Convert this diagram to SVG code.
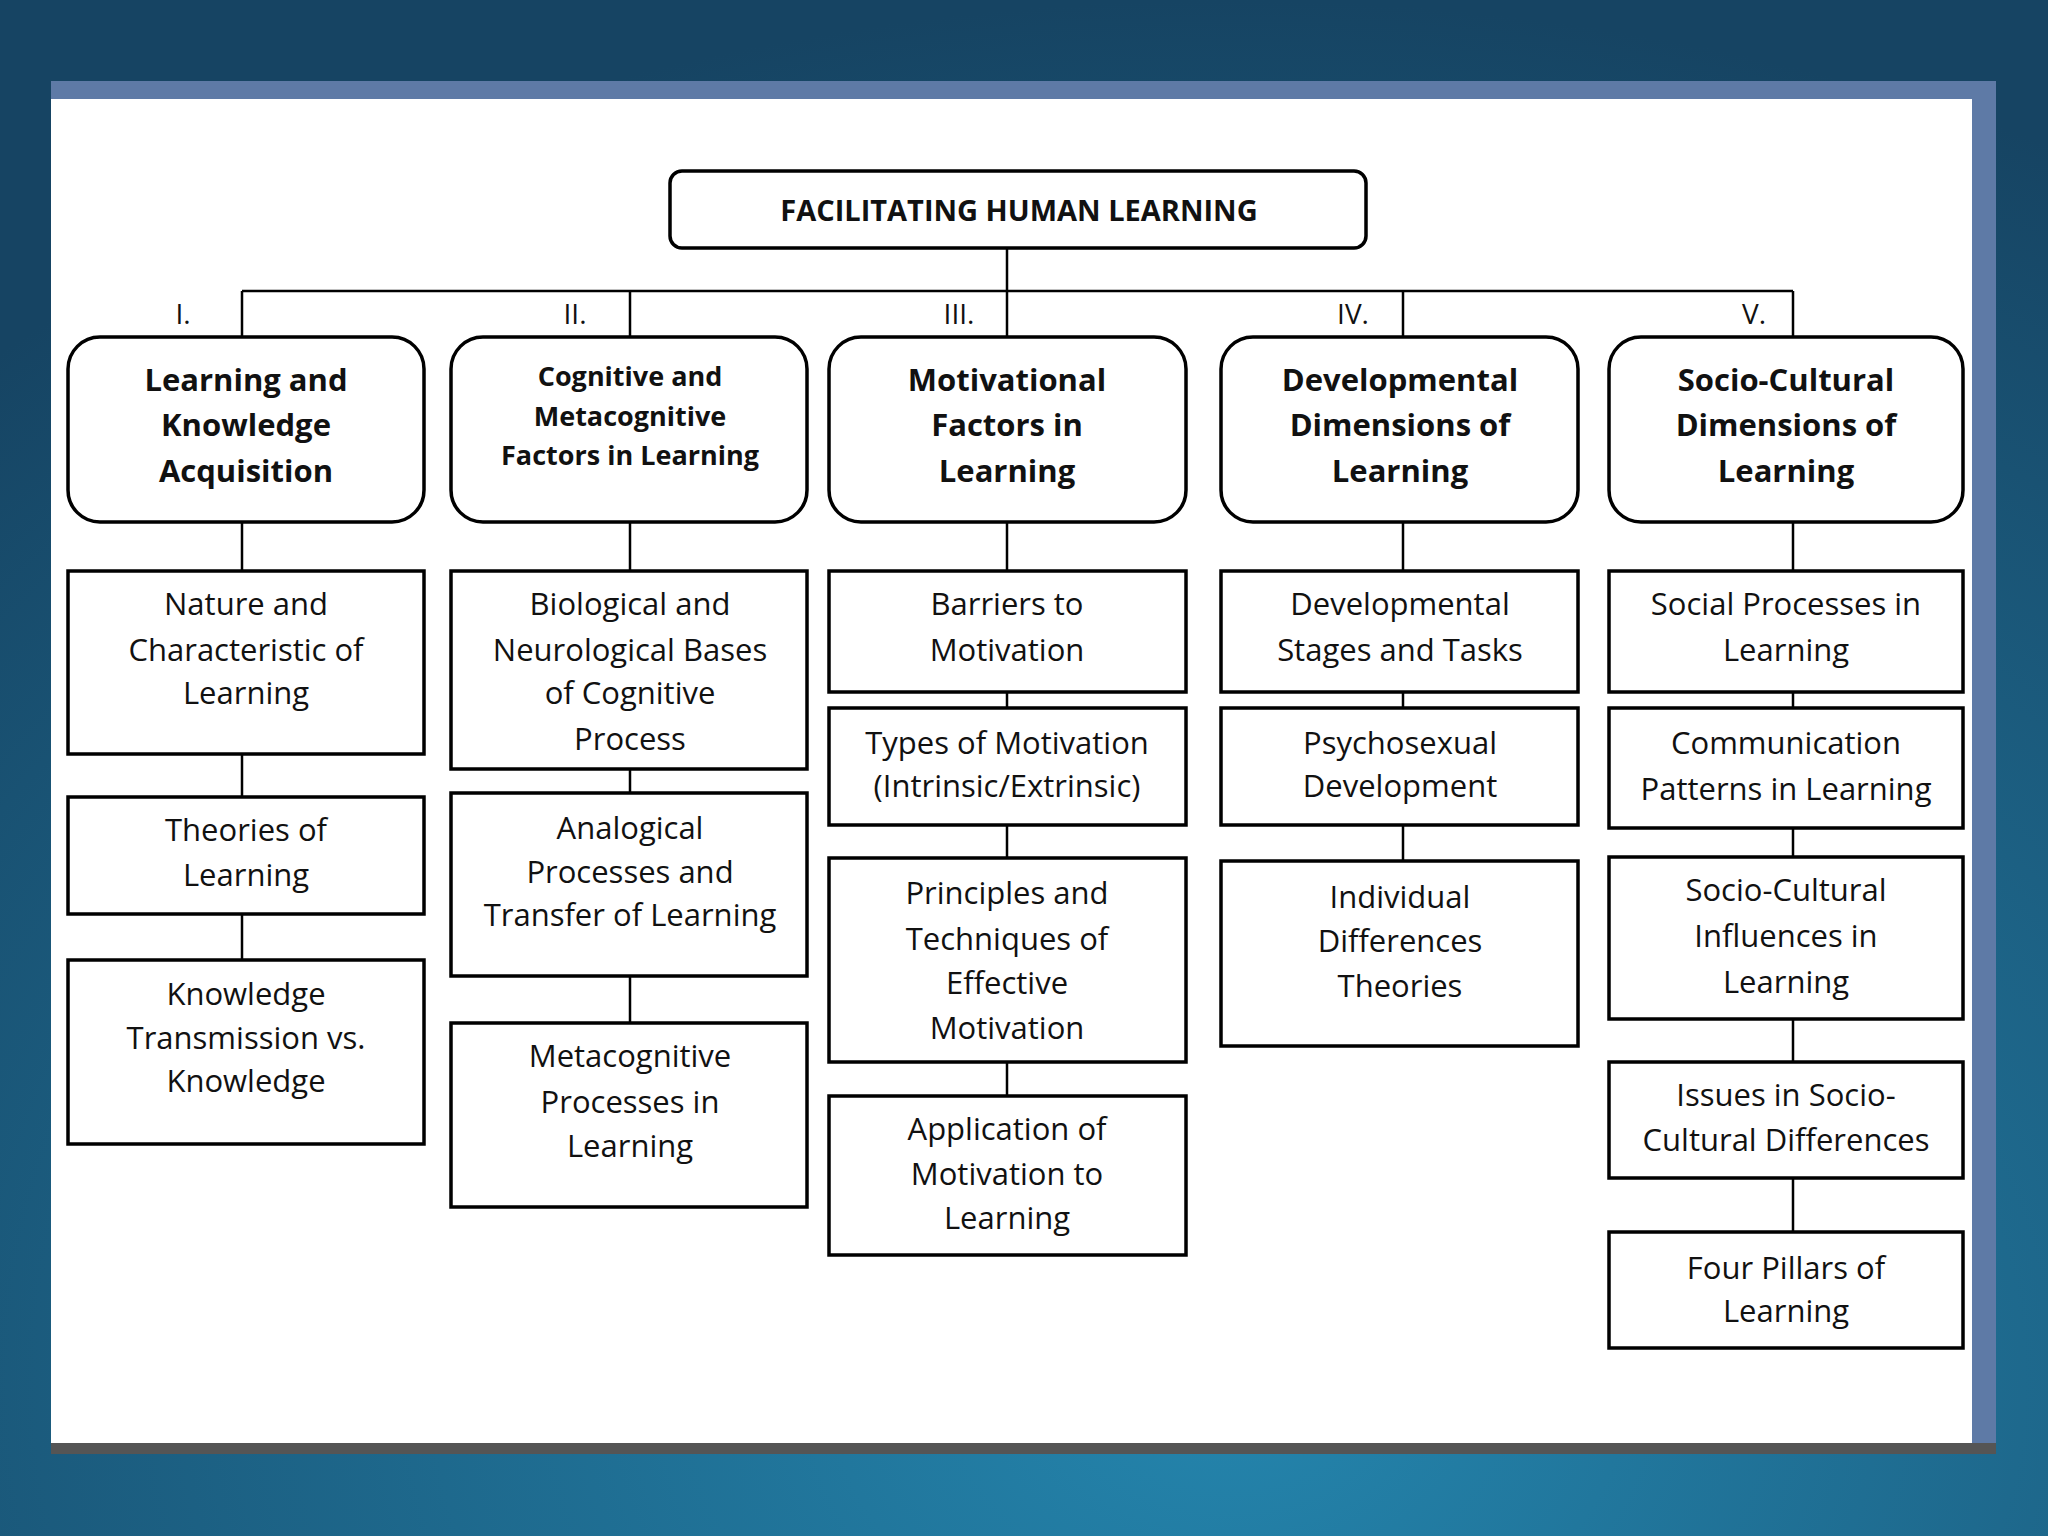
<svg xmlns="http://www.w3.org/2000/svg" width="2048" height="1536" viewBox="0 0 2048 1536">
<defs>
<radialGradient id="bg" cx="0.6" cy="0.9" r="0.9">
<stop offset="0" stop-color="#2485ad"/><stop offset="1" stop-color="#164463"/>
</radialGradient>
<style>
.b{fill:#fff;stroke:#000;stroke-width:3.5}
.l{stroke:#000;stroke-width:2.5;fill:none}
text{font-family:"Open Sans","Liberation Sans",sans-serif;fill:#111;text-anchor:middle;dominant-baseline:central}
.h{font-weight:bold;font-size:31px}
.h2{font-weight:bold;font-size:27px}
.s{font-size:31px}
.r{font-size:28px}
</style>
</defs>
<rect width="2048" height="1536" fill="url(#bg)"/>
<rect x="51" y="81" width="1945" height="1373" fill="#5e7aa6"/>
<rect x="51" y="99" width="1921" height="1344" fill="#fff"/>
<rect x="51" y="1443" width="1945" height="11" fill="#555"/>
<g id="connectors">
<path class="l" d="M1007 248V291M242 291H1793M242 291V337M630 291V337M1007 291V337M1403 291V337M1793 291V337"/>
<path class="l" d="M242 522V571M242 754V797M242 914V960"/>
<path class="l" d="M630 522V571M630 769V793M630 976V1023"/>
<path class="l" d="M1007 522V571M1007 692V708M1007 825V858M1007 1062V1096"/>
<path class="l" d="M1403 522V571M1403 692V708M1403 825V861"/>
<path class="l" d="M1793 522V571M1793 692V708M1793 828V857M1793 1019V1062M1793 1178V1232"/>
</g>
<g id="title"><rect class="b" x="670" y="171" width="696" height="77" rx="12"/><text class="h" x="1019" y="209" style="font-size:29px">FACILITATING HUMAN LEARNING</text></g>
<g id="labels"><text class="r" x="183" y="313">I.</text><text class="r" x="575" y="313">II.</text><text class="r" x="959" y="313">III.</text><text class="r" x="1353" y="313">IV.</text><text class="r" x="1754" y="313">V.</text></g>
<g id="h1"><rect class="b" x="68" y="337" width="356" height="185" rx="32"/><text class="h" x="246"><tspan x="246" y="379">Learning and</tspan><tspan x="246" y="424">Knowledge</tspan><tspan x="246" y="470">Acquisition</tspan></text></g>
<g id="h2"><rect class="b" x="451" y="337" width="356" height="185" rx="32"/><text class="h2" x="630"><tspan x="630" y="375">Cognitive and</tspan><tspan x="630" y="415">Metacognitive</tspan><tspan x="630" y="454">Factors in Learning</tspan></text></g>
<g id="h3"><rect class="b" x="829" y="337" width="357" height="185" rx="32"/><text class="h" x="1007"><tspan x="1007" y="379">Motivational</tspan><tspan x="1007" y="424">Factors in</tspan><tspan x="1007" y="470">Learning</tspan></text></g>
<g id="h4"><rect class="b" x="1221" y="337" width="357" height="185" rx="32"/><text class="h" x="1400"><tspan x="1400" y="379">Developmental</tspan><tspan x="1400" y="424">Dimensions of</tspan><tspan x="1400" y="470">Learning</tspan></text></g>
<g id="h5"><rect class="b" x="1609" y="337" width="354" height="185" rx="32"/><text class="h" x="1786"><tspan x="1786" y="379">Socio-Cultural</tspan><tspan x="1786" y="424">Dimensions of</tspan><tspan x="1786" y="470">Learning</tspan></text></g>
<g id="c1a"><rect class="b" x="68" y="571" width="356" height="183"/><text class="s"><tspan x="246" y="603">Nature and</tspan><tspan x="246" y="649">Characteristic of</tspan><tspan x="246" y="692">Learning</tspan></text></g>
<g id="c1b"><rect class="b" x="68" y="797" width="356" height="117"/><text class="s"><tspan x="246" y="829">Theories of</tspan><tspan x="246" y="874">Learning</tspan></text></g>
<g id="c1c"><rect class="b" x="68" y="960" width="356" height="184"/><text class="s"><tspan x="246" y="993">Knowledge</tspan><tspan x="246" y="1037">Transmission vs.</tspan><tspan x="246" y="1080">Knowledge</tspan></text></g>
<g id="c2a"><rect class="b" x="451" y="571" width="356" height="198"/><text class="s"><tspan x="630" y="603">Biological and</tspan><tspan x="630" y="649">Neurological Bases</tspan><tspan x="630" y="692">of Cognitive</tspan><tspan x="630" y="738">Process</tspan></text></g>
<g id="c2b"><rect class="b" x="451" y="793" width="356" height="183"/><text class="s"><tspan x="630" y="827">Analogical</tspan><tspan x="630" y="871">Processes and</tspan><tspan x="630" y="914">Transfer of Learning</tspan></text></g>
<g id="c2c"><rect class="b" x="451" y="1023" width="356" height="184"/><text class="s"><tspan x="630" y="1055">Metacognitive</tspan><tspan x="630" y="1101">Processes in</tspan><tspan x="630" y="1145">Learning</tspan></text></g>
<g id="c3a"><rect class="b" x="829" y="571" width="357" height="121"/><text class="s"><tspan x="1007" y="603">Barriers to</tspan><tspan x="1007" y="649">Motivation</tspan></text></g>
<g id="c3b"><rect class="b" x="829" y="708" width="357" height="117"/><text class="s"><tspan x="1007" y="742">Types of Motivation</tspan><tspan x="1007" y="785">(Intrinsic/Extrinsic)</tspan></text></g>
<g id="c3c"><rect class="b" x="829" y="858" width="357" height="204"/><text class="s"><tspan x="1007" y="892">Principles and</tspan><tspan x="1007" y="938">Techniques of</tspan><tspan x="1007" y="982">Effective</tspan><tspan x="1007" y="1027">Motivation</tspan></text></g>
<g id="c3d"><rect class="b" x="829" y="1096" width="357" height="159"/><text class="s"><tspan x="1007" y="1128">Application of</tspan><tspan x="1007" y="1173">Motivation to</tspan><tspan x="1007" y="1217">Learning</tspan></text></g>
<g id="c4a"><rect class="b" x="1221" y="571" width="357" height="121"/><text class="s"><tspan x="1400" y="603">Developmental</tspan><tspan x="1400" y="649">Stages and Tasks</tspan></text></g>
<g id="c4b"><rect class="b" x="1221" y="708" width="357" height="117"/><text class="s"><tspan x="1400" y="742">Psychosexual</tspan><tspan x="1400" y="785">Development</tspan></text></g>
<g id="c4c"><rect class="b" x="1221" y="861" width="357" height="185"/><text class="s"><tspan x="1400" y="896">Individual</tspan><tspan x="1400" y="940">Differences</tspan><tspan x="1400" y="985">Theories</tspan></text></g>
<g id="c5a"><rect class="b" x="1609" y="571" width="354" height="121"/><text class="s"><tspan x="1786" y="603">Social Processes in</tspan><tspan x="1786" y="649">Learning</tspan></text></g>
<g id="c5b"><rect class="b" x="1609" y="708" width="354" height="120"/><text class="s"><tspan x="1786" y="742">Communication</tspan><tspan x="1786" y="788">Patterns in Learning</tspan></text></g>
<g id="c5c"><rect class="b" x="1609" y="857" width="354" height="162"/><text class="s"><tspan x="1786" y="889">Socio-Cultural</tspan><tspan x="1786" y="935">Influences in</tspan><tspan x="1786" y="981">Learning</tspan></text></g>
<g id="c5d"><rect class="b" x="1609" y="1062" width="354" height="116"/><text class="s"><tspan x="1786" y="1094">Issues in Socio-</tspan><tspan x="1786" y="1139">Cultural Differences</tspan></text></g>
<g id="c5e"><rect class="b" x="1609" y="1232" width="354" height="116"/><text class="s"><tspan x="1786" y="1267">Four Pillars of</tspan><tspan x="1786" y="1310">Learning</tspan></text></g>
</svg>
